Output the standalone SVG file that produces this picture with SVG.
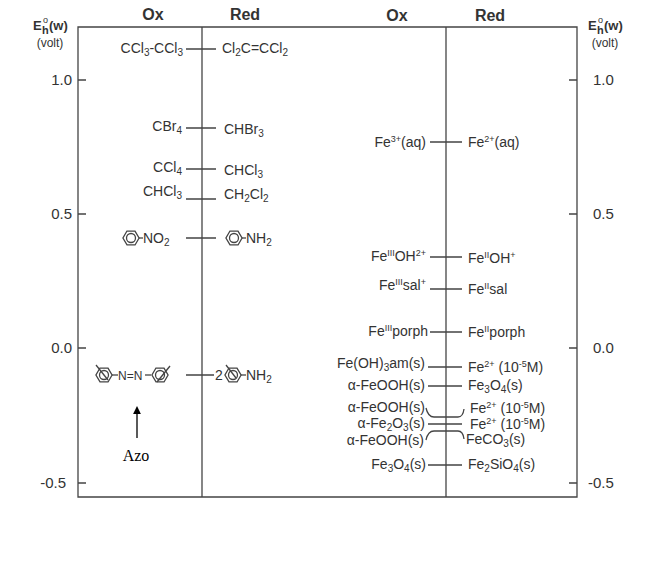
<svg xmlns="http://www.w3.org/2000/svg" width="660" height="564" viewBox="0 0 660 564">
<style>
text{font-family:"Liberation Sans",Arial,sans-serif;fill:#333;font-size:14px}
.h{font-weight:bold;font-size:16px}
.ax{font-size:15px}
.s{font-size:12px}
.b{font-weight:bold;font-size:13px}
line,path,polygon,circle{stroke:#444;stroke-width:1.3;fill:none}
.e{text-anchor:end}
</style>
<defs>
<g id="bz"><polygon points="0,-8 7,-4 7,4 0,8 -7,4 -7,-4" transform="rotate(30)"/><circle r="4.5"/></g>
<marker id="ar" viewBox="0 0 10 10" refX="5" refY="5" markerWidth="6" markerHeight="8" orient="auto"><path d="M0,0L10,5L0,10z" style="fill:#000;stroke:none"/></marker>
</defs>
<g id="frame">
<path d="M78,27H577V497H78Z"/>
<line x1="202" y1="27" x2="202" y2="497"/>
<line x1="446" y1="27" x2="446" y2="497"/>
<path d="M78,80h8M78,214h8M78,348h8M78,483h8M577,80h-8M577,214h-8M577,348h-8M577,483h-8"/>
</g>
<g id="labels">
<text class="h" x="153" y="20" text-anchor="middle">Ox</text>
<text class="h" x="245" y="20" text-anchor="middle">Red</text>
<text class="h" x="397" y="21" text-anchor="middle">Ox</text>
<text class="h" x="490" y="21" text-anchor="middle">Red</text>
<text class="b" x="33" y="30">E</text><text x="43" y="23" style="font-size:9px">o</text><text x="42" y="34" style="font-weight:bold;font-size:11px">h</text><text class="b" x="49" y="30">(w)</text>
<text x="50" y="47" text-anchor="middle" class="s">(volt)</text>
<text class="b" x="588" y="30">E</text><text x="598" y="23" style="font-size:9px">o</text><text x="597" y="34" style="font-weight:bold;font-size:11px">h</text><text class="b" x="604" y="30">(w)</text>
<text x="605" y="47" text-anchor="middle" class="s">(volt)</text>
<text class="ax e" x="72" y="85">1.0</text>
<text class="ax e" x="72" y="219">0.5</text>
<text class="ax e" x="72" y="353">0.0</text>
<text class="ax e" x="66" y="488">-0.5</text>
<text class="ax" x="593" y="85">1.0</text>
<text class="ax" x="593" y="219">0.5</text>
<text class="ax" x="593" y="353">0.0</text>
<text class="ax" x="588" y="488">-0.5</text>
</g>
<g id="connectors">
<path d="M186,49h30M186,128h30M186,169h30M186,199h30M186,238h30M186,375h28"/>
<path d="M430,142h32M430,257h32M430,289h32M430,332h32M428,367h34M428,386h34M428,424h34M428,465h34"/>
<path d="M426,408q2,9,8,9h24q5,0,6,-8M426,440q2,-9,8,-9h24q5,0,6,8"/>
</g>
<g id="left">
<text class="e" x="183" y="53">CCl<tspan dy="3" font-size="10">3</tspan><tspan dy="-3">-CCl</tspan><tspan dy="3" font-size="10">3</tspan></text>
<text x="222" y="53">Cl<tspan dy="3" font-size="10">2</tspan><tspan dy="-3">C=CCl</tspan><tspan dy="3" font-size="10">2</tspan></text>
<text class="e" x="182" y="131">CBr<tspan dy="3" font-size="10">4</tspan></text>
<text x="224" y="134">CHBr<tspan dy="3" font-size="10">3</tspan></text>
<text class="e" x="182" y="172">CCl<tspan dy="3" font-size="10">4</tspan></text>
<text x="224" y="175">CHCl<tspan dy="3" font-size="10">3</tspan></text>
<text class="e" x="182" y="196">CHCl<tspan dy="3" font-size="10">3</tspan></text>
<text x="224" y="199">CH<tspan dy="3" font-size="10">2</tspan><tspan dy="-3">Cl</tspan><tspan dy="3" font-size="10">2</tspan></text>
<use href="#bz" x="131" y="238"/><line x1="139" y1="238" x2="143" y2="238"/>
<text x="143" y="243">NO<tspan dy="3" font-size="10">2</tspan></text>
<use href="#bz" x="234" y="238"/><line x1="242" y1="238" x2="246" y2="238"/>
<text x="246" y="243">NH<tspan dy="3" font-size="10">2</tspan></text>
<use href="#bz" x="104" y="375"/><line x1="96" y1="365" x2="108" y2="380"/>
<line x1="112" y1="375" x2="118" y2="375"/>
<text x="118" y="380" style="font-size:12px">N=N</text>
<line x1="145" y1="375" x2="151" y2="375"/>
<use href="#bz" x="160" y="375"/><line x1="157" y1="382" x2="170" y2="366"/>
<text x="215" y="380">2</text>
<use href="#bz" x="233" y="375"/><line x1="226" y1="365" x2="236" y2="378"/><line x1="241" y1="375" x2="246" y2="375"/>
<text x="246" y="380">NH<tspan dy="3" font-size="10">2</tspan></text>
<line x1="137" y1="438" x2="137" y2="410" marker-end="url(#ar)" style="stroke:#000"/>
<text x="136" y="461" text-anchor="middle" style="font-family:'Liberation Serif',serif;font-size:16px;fill:#000">Azo</text>
</g>
<g id="right">
<text class="e" x="426" y="147">Fe<tspan dy="-5" font-size="9">3+</tspan><tspan dy="5">(aq)</tspan></text>
<text x="468" y="147">Fe<tspan dy="-5" font-size="9">2+</tspan><tspan dy="5">(aq)</tspan></text>
<text class="e" x="426" y="261">Fe<tspan dy="-5" font-size="9">III</tspan><tspan dy="5">OH</tspan><tspan dy="-5" font-size="9">2+</tspan></text>
<text x="468" y="263">Fe<tspan dy="-5" font-size="9">II</tspan><tspan dy="5">OH</tspan><tspan dy="-5" font-size="9">+</tspan></text>
<text class="e" x="426" y="290">Fe<tspan dy="-5" font-size="9">III</tspan><tspan dy="5">sal</tspan><tspan dy="-5" font-size="9">+</tspan></text>
<text x="468" y="294">Fe<tspan dy="-5" font-size="9">II</tspan><tspan dy="5">sal</tspan></text>
<text class="e" x="428" y="336">Fe<tspan dy="-5" font-size="9">III</tspan><tspan dy="5">porph</tspan></text>
<text x="468" y="337">Fe<tspan dy="-5" font-size="9">II</tspan><tspan dy="5">porph</tspan></text>
<text class="e" x="425" y="368">Fe(OH)<tspan dy="3" font-size="10">3</tspan><tspan dy="-3">am(s)</tspan></text>
<text x="468" y="372">Fe<tspan dy="-5" font-size="9">2+</tspan><tspan dy="5"> (10</tspan><tspan dy="-5" font-size="9">-5</tspan><tspan dy="5">M)</tspan></text>
<text class="e" x="425" y="390">α-FeOOH(s)</text>
<text x="468" y="390">Fe<tspan dy="3" font-size="10">3</tspan><tspan dy="-3">O</tspan><tspan dy="3" font-size="10">4</tspan><tspan dy="-3">(s)</tspan></text>
<text class="e" x="425" y="412">α-FeOOH(s)</text>
<text x="470" y="413">Fe<tspan dy="-5" font-size="9">2+</tspan><tspan dy="5"> (10</tspan><tspan dy="-5" font-size="9">-5</tspan><tspan dy="5">M)</tspan></text>
<text class="e" x="425" y="428">α-Fe<tspan dy="3" font-size="10">2</tspan><tspan dy="-3">O</tspan><tspan dy="3" font-size="10">3</tspan><tspan dy="-3">(s)</tspan></text>
<text x="470" y="429">Fe<tspan dy="-5" font-size="9">2+</tspan><tspan dy="5"> (10</tspan><tspan dy="-5" font-size="9">-5</tspan><tspan dy="5">M)</tspan></text>
<text class="e" x="424" y="445">α-FeOOH(s)</text>
<text x="466" y="444">FeCO<tspan dy="3" font-size="10">3</tspan><tspan dy="-3">(s)</tspan></text>
<text class="e" x="426" y="469">Fe<tspan dy="3" font-size="10">3</tspan><tspan dy="-3">O</tspan><tspan dy="3" font-size="10">4</tspan><tspan dy="-3">(s)</tspan></text>
<text x="468" y="469">Fe<tspan dy="3" font-size="10">2</tspan><tspan dy="-3">SiO</tspan><tspan dy="3" font-size="10">4</tspan><tspan dy="-3">(s)</tspan></text>
</g>
</svg>
